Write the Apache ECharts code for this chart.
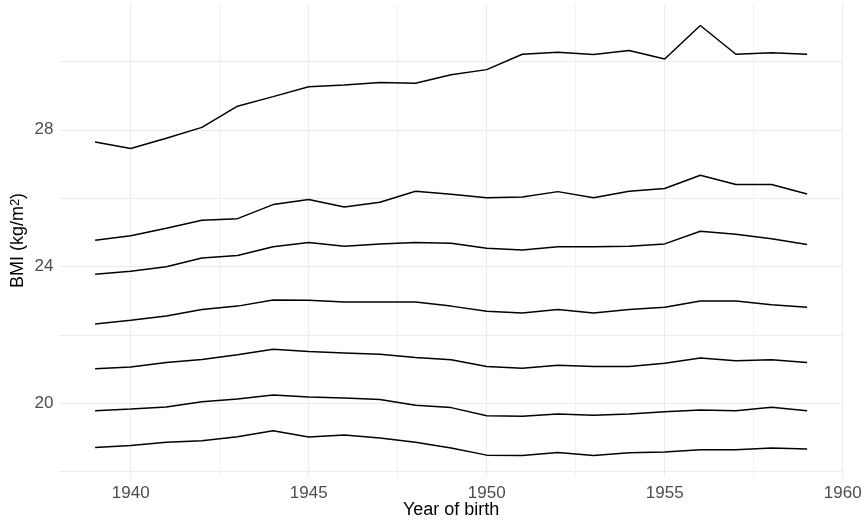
<!DOCTYPE html>
<html><head><meta charset="utf-8">
<script src="https://cdn.jsdelivr.net/npm/echarts@6/dist/echarts.min.js"></script>
<style>html,body{margin:0;padding:0;background:#fff}#c{width:865px;height:520px}</style>
</head><body><div id="c"></div>
<script>
const years = [1939,1940,1941,1942,1943,1944,1945,1946,1947,1948,1949,1950,1951,1952,1953,1954,1955,1956,1957,1958,1959];
const p95 = [27.64,27.45,27.75,28.07,28.69,28.97,29.26,29.31,29.38,29.36,29.61,29.76,30.21,30.27,30.20,30.32,30.07,31.05,30.21,30.25,30.21];
const p90 = [24.77,24.90,25.12,25.35,25.40,25.81,25.96,25.74,25.88,26.20,26.11,26.01,26.03,26.19,26.01,26.20,26.28,26.67,26.40,26.40,26.12];
const p75 = [23.77,23.86,23.99,24.25,24.32,24.58,24.70,24.59,24.66,24.70,24.68,24.53,24.48,24.58,24.58,24.59,24.66,25.03,24.94,24.81,24.64];
const p50 = [22.32,22.43,22.55,22.74,22.84,23.02,23.01,22.96,22.96,22.96,22.84,22.69,22.64,22.74,22.64,22.74,22.81,22.99,22.99,22.88,22.81];
const p25 = [21.01,21.06,21.19,21.28,21.42,21.58,21.51,21.47,21.43,21.34,21.27,21.07,21.02,21.11,21.07,21.07,21.17,21.32,21.24,21.27,21.19];
const p10 = [19.78,19.83,19.89,20.04,20.12,20.24,20.18,20.15,20.11,19.94,19.87,19.63,19.62,19.68,19.65,19.68,19.75,19.80,19.78,19.88,19.78];
const p5  = [18.70,18.76,18.86,18.90,19.02,19.19,19.01,19.07,18.98,18.86,18.69,18.48,18.47,18.56,18.47,18.55,18.57,18.64,18.64,18.69,18.66];
const seriesList = [['p5',p5],['p10',p10],['p25',p25],['p50',p50],['p75',p75],['p90',p90],['p95',p95]];

const font = 'Liberation Sans, Arial, Helvetica, sans-serif';
const chart = echarts.init(document.getElementById('c'), null, {renderer:'canvas'});
chart.setOption({
  animation: false,
  backgroundColor: '#ffffff',
  textStyle: {fontFamily: font},
  grid: {left: 59.5, right: 22.3, top: 4, bottom: 43, containLabel: false, outerBoundsMode: 'none'},
  xAxis: {
    type: 'value', min: 1938, max: 1960, splitNumber: 5,
    axisLine: {show: false}, axisTick: {show: false},
    axisLabel: {color: '#4D4D4D', fontSize: 17, margin: 8, fontFamily: font,
      showMinLabel: false,
      formatter: v => (Math.abs(v % 5) < 1e-6 ? String(v) : '')},
    splitLine: {show: true, showMinLine: false, lineStyle: {color: '#EBEBEB', width: 1}},
    minorTick: {show: false, splitNumber: 2},
    minorSplitLine: {show: true, lineStyle: {color: '#F1F1F1', width: 1}},
    name: 'Year of birth', nameLocation: 'middle', nameGap: 24, nameMoveOverlap: false,
    nameTextStyle: {color: '#000', fontSize: 18, fontFamily: font, verticalAlign: 'top'}
  },
  yAxis: {
    type: 'value', min: 17.84, max: 31.68, splitNumber: 7,
    axisLine: {show: false}, axisTick: {show: false},
    axisLabel: {color: '#4D4D4D', fontSize: 17, margin: 6, fontFamily: font,
      formatter: v => (Math.abs(v % 4) < 1e-6 ? String(v) : '')},
    splitLine: {show: true, showMinLine: false, showMaxLine: false, lineStyle: {color: '#EBEBEB', width: 1}},
    name: 'BMI (kg/m{sup|2})', nameLocation: 'middle', nameGap: 32, nameMoveOverlap: false,
    nameTextStyle: {color: '#000', fontSize: 18, fontFamily: font,
      rich: {sup: {fontSize: 13, color: '#000', fontFamily: font, verticalAlign: 'top', padding: [0,0,6,0]}}}
  },
  series: seriesList.map(([name, vals]) => ({
    name, type: 'line', showSymbol: false, silent: true,
    data: years.map((y, i) => [y, vals[i]]),
    lineStyle: {color: '#000000', width: 1.5}
  }))
});
</script></body></html>
